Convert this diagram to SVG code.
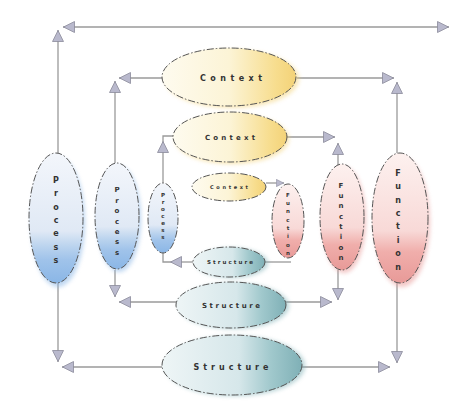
<svg xmlns="http://www.w3.org/2000/svg" width="474" height="409" viewBox="0 0 474 409">
<style>
  .ln{fill:none;stroke:#9a9a9a;stroke-width:1.3}
  .el{stroke:#555;stroke-width:1;stroke-dasharray:7 2 1.5 2}
  .tx{font-family:"DejaVu Sans",sans-serif;font-weight:bold;fill:#333;text-anchor:middle}
  .sh{filter:url(#blur);opacity:0.55}
</style>
<defs>
  <filter id="blur" x="-30%" y="-30%" width="160%" height="160%"><feGaussianBlur stdDeviation="2"/></filter>
  <linearGradient id="gP" x1="0" y1="0" x2="0" y2="1">
    <stop offset="0" stop-color="#f3f6fb"/><stop offset="0.6" stop-color="#e0e9f5"/>
    <stop offset="0.72" stop-color="#bad3ee"/><stop offset="0.82" stop-color="#a0c3ea"/><stop offset="1" stop-color="#8ab6e6"/>
  </linearGradient>
  <linearGradient id="gF" x1="0" y1="0" x2="0" y2="1">
    <stop offset="0" stop-color="#fdf1ef"/><stop offset="0.6" stop-color="#f8d9d7"/>
    <stop offset="0.76" stop-color="#f0aeab"/><stop offset="1" stop-color="#e89a98"/>
  </linearGradient>
  <linearGradient id="gC" x1="0" y1="0" x2="1" y2="0">
    <stop offset="0" stop-color="#fefbef"/><stop offset="0.5" stop-color="#fcf4d6"/>
    <stop offset="0.85" stop-color="#f7dd8e"/><stop offset="1" stop-color="#f3d277"/>
  </linearGradient>
  <linearGradient id="gS" x1="0" y1="0" x2="1" y2="0">
    <stop offset="0" stop-color="#eef5f6"/><stop offset="0.55" stop-color="#d6e7ea"/>
    <stop offset="0.78" stop-color="#a0c8cc"/><stop offset="1" stop-color="#7fb0b6"/>
  </linearGradient>
  <marker id="ar" viewBox="0 0 12 12" refX="12" refY="6" markerWidth="13" markerHeight="12" markerUnits="userSpaceOnUse" orient="auto-start-reverse">
    <path d="M0.5,0.5 L11.5,6 L0.5,11.5 Z" fill="#b9b9cd" stroke="#8a8a9a" stroke-width="0.8"/>
  </marker>
  <marker id="ars" viewBox="0 0 12 12" refX="12" refY="6" markerWidth="8" markerHeight="8" markerUnits="userSpaceOnUse" orient="auto">
    <path d="M0.5,0.5 L11.5,6 L0.5,11.5 Z" fill="#b9b9cd" stroke="#8a8a9a" stroke-width="0.8"/>
  </marker>
</defs>
<rect width="474" height="409" fill="#ffffff"/>

<g id="connectors">
  <path class="ln" d="M63,27 L449,27" marker-start="url(#ar)" marker-end="url(#ar)"/>
  <path class="ln" d="M58,153 L58,30" marker-end="url(#ar)"/>
  <path class="ln" d="M58,283 L58,362" marker-end="url(#ar)"/>
  <path class="ln" d="M162,367 L62,367" marker-end="url(#ar)"/>
  <path class="ln" d="M302,367 L390,367" marker-end="url(#ar)"/>
  <path class="ln" d="M397,283 L397,363" marker-end="url(#ar)"/>
  <path class="ln" d="M397,153 L397,82" marker-end="url(#ar)"/>
  <path class="ln" d="M297,78 L394,78" marker-end="url(#ar)"/>
  <path class="ln" d="M162,78 L119,78" marker-end="url(#ar)"/>
  <path class="ln" d="M115,163 L115,81" marker-end="url(#ar)"/>
  <path class="ln" d="M115,270 L115,297" marker-end="url(#ar)"/>
  <path class="ln" d="M176,302 L119,302" marker-end="url(#ar)"/>
  <path class="ln" d="M286,302 L332,302" marker-end="url(#ar)"/>
  <path class="ln" d="M338,270 L338,300" marker-end="url(#ar)"/>
  <path class="ln" d="M338,165 L338,143" marker-end="url(#ar)"/>
  <path class="ln" d="M287,137 L335,137" marker-end="url(#ar)"/>
  <path class="ln" d="M163,184 L163,141" marker-end="url(#ar)"/>
  <path class="ln" d="M163,141 L163,136 L174,136"/>
  <path class="ln" d="M266,183 L284,183" marker-end="url(#ars)"/>
  <path class="ln" d="M265,262 L291,262"/>
  <path class="ln" d="M193,262 L170,262" marker-end="url(#ar)"/>
  <path class="ln" d="M163,253 L163,262 L170,262"/>
</g>

<g id="context-outer">
  <ellipse class="sh" cx="232" cy="79" rx="67" ry="29" fill="#f3d277"/>
  <ellipse class="el" cx="229" cy="77" rx="67" ry="29" fill="url(#gC)"/>
  <text class="tx" x="231" y="81" font-size="8" textLength="62" lengthAdjust="spacing">Context</text>
</g>
<g id="context-middle">
  <ellipse class="sh" cx="232" cy="139" rx="57" ry="25" fill="#f3d277"/>
  <ellipse class="el" cx="230" cy="137" rx="57" ry="25" fill="url(#gC)"/>
  <text class="tx" x="230" y="140" font-size="7" textLength="50" lengthAdjust="spacing">Context</text>
</g>
<g id="context-inner">
  <ellipse class="el" cx="229" cy="187" rx="37" ry="14" fill="url(#gC)"/>
  <text class="tx" x="229" y="189" font-size="5" textLength="38" lengthAdjust="spacing">Context</text>
</g>

<g id="structure-inner">
  <ellipse class="sh" cx="232" cy="263" rx="36" ry="15" fill="#7fb0b6"/>
  <ellipse class="el" cx="229" cy="262" rx="36" ry="15" fill="url(#gS)"/>
  <text class="tx" x="230" y="264" font-size="5.5" textLength="46" lengthAdjust="spacing">Structure</text>
</g>
<g id="structure-middle">
  <ellipse class="sh" cx="234" cy="306" rx="55" ry="23" fill="#7fb0b6"/>
  <ellipse class="el" cx="231" cy="305" rx="55" ry="23" fill="url(#gS)"/>
  <text class="tx" x="231" y="308" font-size="7" textLength="58" lengthAdjust="spacing">Structure</text>
</g>
<g id="structure-outer">
  <ellipse class="sh" cx="235" cy="366" rx="70" ry="30" fill="#7fb0b6"/>
  <ellipse class="el" cx="232" cy="365" rx="70" ry="30" fill="url(#gS)"/>
  <text class="tx" x="231" y="370" font-size="8" textLength="75" lengthAdjust="spacing">Structure</text>
</g>

<g id="process-outer">
  <ellipse class="sh" cx="58" cy="222" rx="27" ry="65" fill="#8ab6e6"/>
  <ellipse class="el" cx="56" cy="218" rx="27" ry="65" fill="url(#gP)"/>
  <text class="tx" font-size="8"><tspan x="56" y="183">P</tspan><tspan x="56" y="196">r</tspan><tspan x="56" y="210">o</tspan><tspan x="56" y="223">c</tspan><tspan x="56" y="236">e</tspan><tspan x="56" y="250">s</tspan><tspan x="56" y="263">s</tspan></text>
</g>
<g id="process-middle">
  <ellipse class="sh" cx="119" cy="219" rx="22" ry="53" fill="#8ab6e6"/>
  <ellipse class="el" cx="117" cy="216" rx="22" ry="53" fill="url(#gP)"/>
  <text class="tx" font-size="7"><tspan x="117" y="192">P</tspan><tspan x="117" y="203">r</tspan><tspan x="117" y="213">o</tspan><tspan x="117" y="224">c</tspan><tspan x="117" y="234">e</tspan><tspan x="117" y="244">s</tspan><tspan x="117" y="255">s</tspan></text>
</g>
<g id="process-inner">
  <ellipse class="el" cx="163" cy="218" rx="15" ry="35" fill="url(#gP)"/>
  <text class="tx" font-size="5.5"><tspan x="163" y="197">P</tspan><tspan x="163" y="204">r</tspan><tspan x="163" y="211">o</tspan><tspan x="163" y="218">c</tspan><tspan x="163" y="225">e</tspan><tspan x="163" y="232">s</tspan><tspan x="163" y="239">s</tspan></text>
</g>

<g id="function-inner">
  <ellipse class="el" cx="288" cy="221" rx="16" ry="37" fill="url(#gF)"/>
  <text class="tx" font-size="5.5"><tspan x="288" y="197">F</tspan><tspan x="288" y="205">u</tspan><tspan x="288" y="213">n</tspan><tspan x="288" y="222">c</tspan><tspan x="288" y="230">t</tspan><tspan x="288" y="238">i</tspan><tspan x="288" y="247">o</tspan><tspan x="288" y="255">n</tspan></text>
</g>
<g id="function-middle">
  <ellipse class="sh" cx="344" cy="220" rx="22" ry="53" fill="#e89a98"/>
  <ellipse class="el" cx="342" cy="217" rx="22" ry="53" fill="url(#gF)"/>
  <text class="tx" font-size="7"><tspan x="341" y="188">F</tspan><tspan x="341" y="198">u</tspan><tspan x="341" y="208">n</tspan><tspan x="341" y="219">c</tspan><tspan x="341" y="229">t</tspan><tspan x="341" y="239">i</tspan><tspan x="341" y="250">o</tspan><tspan x="341" y="260">n</tspan></text>
</g>
<g id="function-outer">
  <ellipse class="sh" cx="402" cy="222" rx="28" ry="65" fill="#e89a98"/>
  <ellipse class="el" cx="400" cy="218" rx="28" ry="65" fill="url(#gF)"/>
  <text class="tx" font-size="8"><tspan x="398" y="176">F</tspan><tspan x="398" y="189">u</tspan><tspan x="398" y="203">n</tspan><tspan x="398" y="216">c</tspan><tspan x="398" y="229">t</tspan><tspan x="398" y="243">i</tspan><tspan x="398" y="256">o</tspan><tspan x="398" y="270">n</tspan></text>
</g>
</svg>
